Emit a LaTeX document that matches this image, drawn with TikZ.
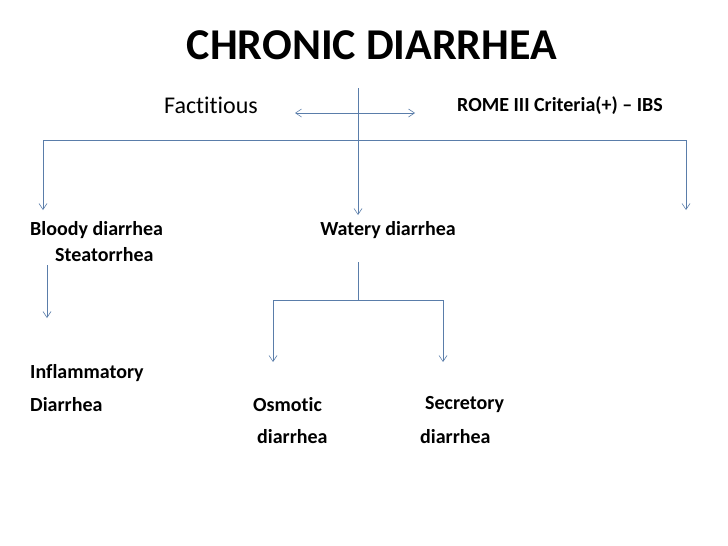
\documentclass[tikz,border=0pt]{standalone}
\usepackage{fontspec}
\setmainfont{Carlito}[Ligatures=NoCommon]
\usetikzlibrary{arrows.meta}
\definecolor{ln}{RGB}{90,125,170}
\begin{document}
\begin{tikzpicture}[x=1pt,y=-1pt,
  conn/.style={draw=ln,line width=0.6pt},
  arr/.style={conn,-{Straight Barb[length=6pt,width=8pt]}},
  lbl/.style={inner sep=0pt,font=\fontsize{20}{24}\selectfont\bfseries},
  lb/.style={lbl,anchor=west}]
\useasboundingbox (0,0) rectangle (728,546);
\node[inner sep=0pt,font=\fontsize{44}{50}\selectfont\bfseries] (title) at (372,45) {CHRONIC DIARRHEA};
\node[inner sep=0pt,font=\fontsize{24}{28}\selectfont] (fact) at (211,105) {Factitious};
\node[inner sep=0pt,font=\fontsize{20}{24}\selectfont\bfseries] (rome) at (560,106) {ROME III Criteria(+) – IBS};
\coordinate (da) at (295,113); \coordinate (db) at (415,113);
\draw[conn,{Straight Barb[length=6pt,width=8pt]}-{Straight Barb[length=6pt,width=8pt]}] (da) -- (db);
\coordinate (top) at (358,88); \coordinate (hl) at (43,140); \coordinate (hr) at (686,140);
\draw[conn] (hl) -- (hr);
\node[lb] (bloody) at (30,230) {Bloody diarrhea};
\node[lb] (steat) at (55,255) {Steatorrhea};
\node[lbl] (watery) at (388,230) {Watery diarrhea};
\coordinate (le) at (43,210); \coordinate (re) at (686,210); \coordinate (me) at (358,215);
\draw[arr] (top) -- (me);
\draw[arr] (hl) -- (le);
\draw[arr] (hr) -- (re);
\coordinate (sa) at (47,265); \coordinate (sb) at (47,318);
\draw[arr] (sa) -- (sb);
\node[lb] (infl) at (30,373) {Inflammatory};
\node[lb] (diar) at (30,405) {Diarrhea};
\node[lb] (osm) at (253,405) {Osmotic};
\node[lb] (osm2) at (257,437) {diarrhea};
\node[lb] (sec) at (425,405) {Secretory};
\node[lb] (sec2) at (420,437) {diarrhea};
\coordinate (w1) at (358,262); \coordinate (w2) at (358,300);
\coordinate (bl) at (273,300); \coordinate (br) at (443,300);
\coordinate (blb) at (273,362); \coordinate (brb) at (443,362);
\draw[conn] (w1) -- (w2);
\draw[conn] (bl) -- (br);
\draw[arr] (bl) -- (blb);
\draw[arr] (br) -- (brb);
\end{tikzpicture}
\end{document}
